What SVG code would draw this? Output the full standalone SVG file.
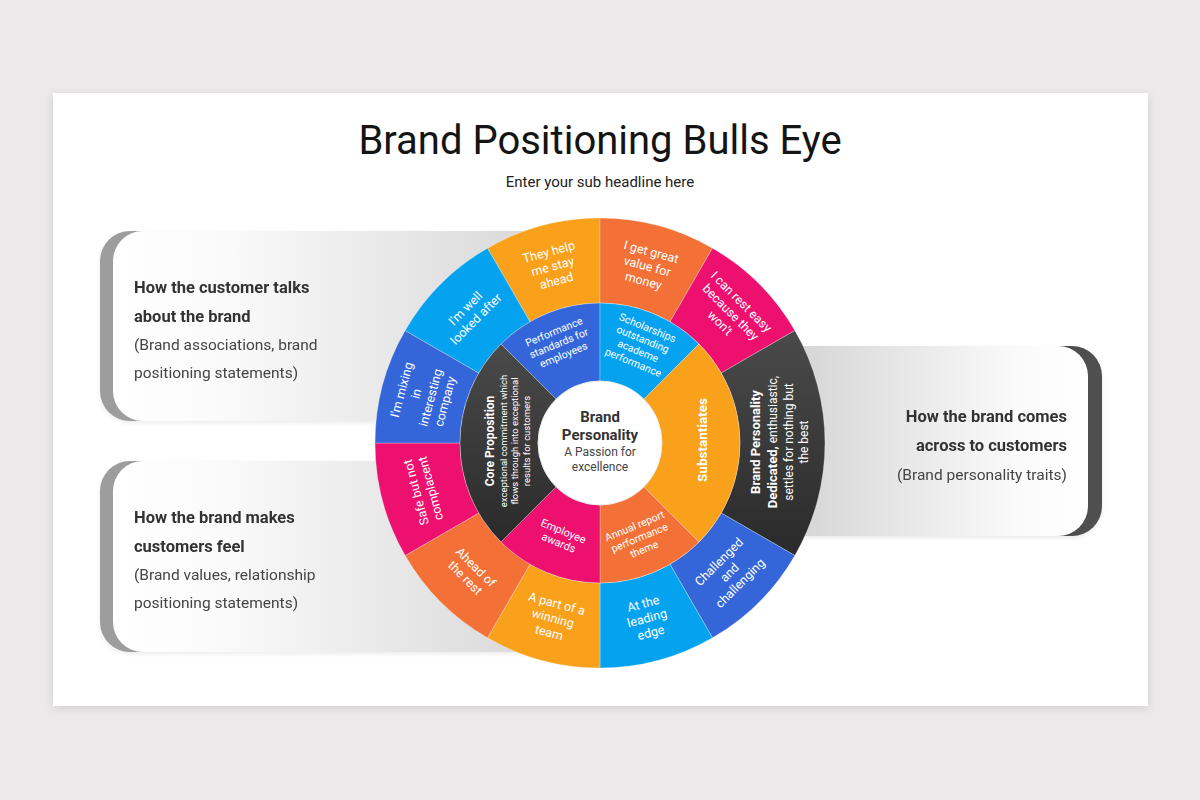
<svg xmlns="http://www.w3.org/2000/svg" width="1200" height="800" viewBox="0 0 1200 800">
<defs>
<style>
text{font-family:Roboto,"Liberation Sans",sans-serif}
.title{font-size:40px;fill:#141414;text-anchor:middle}
.sub{font-size:15px;fill:#222;text-anchor:middle}
.ph{font-size:16.5px;font-weight:700;fill:#333}
.pr{font-size:15.5px;fill:#444}
.o{font-size:12.5px;fill:#fff;text-anchor:middle}
.m{font-size:10.5px;fill:#fff;text-anchor:middle}
.b{font-weight:700}
.seg{stroke:#fff;stroke-opacity:.35;stroke-width:.8}
.c-or{fill:#F9A11B}
.c-rd{fill:#F37136}
.c-pk{fill:#EE106F}
.c-bl{fill:#3466DA}
.c-cy{fill:#05A3EF}
.c-dk{fill:url(#dark)}
</style>
<linearGradient id="dark" x1="0" y1="0" x2="0" y2="1">
<stop offset="0" stop-color="#4a4a4a"/><stop offset="1" stop-color="#2a2a2a"/>
</linearGradient>
<linearGradient id="lp" gradientUnits="userSpaceOnUse" x1="113" y1="0" x2="560" y2="0">
<stop offset="0" stop-color="#ffffff"/><stop offset="0.25" stop-color="#fafafa"/><stop offset="1" stop-color="#d6d6d6"/>
</linearGradient>
<linearGradient id="rp" gradientUnits="userSpaceOnUse" x1="1088" y1="0" x2="800" y2="0">
<stop offset="0" stop-color="#ffffff"/><stop offset="0.25" stop-color="#fafafa"/><stop offset="1" stop-color="#d6d6d6"/>
</linearGradient>
<filter id="cardsh" x="-5%" y="-5%" width="110%" height="112%">
<feDropShadow dx="0" dy="2" stdDeviation="4" flood-color="#000" flood-opacity="0.12"/>
</filter>
<filter id="psh" x="-5%" y="-10%" width="110%" height="125%">
<feDropShadow dx="0" dy="2" stdDeviation="2" flood-color="#000" flood-opacity="0.08"/>
</filter>
</defs>

<rect width="1200" height="800" fill="#EBE9EA"/>
<g id="card">
<rect x="53" y="93" width="1095" height="613" fill="#fff" filter="url(#cardsh)"/>
</g>

<g id="heading">
<text class="title" x="600" y="154">Brand Positioning Bulls Eye</text>
<text class="sub" x="600" y="187">Enter your sub headline here</text>
</g>

<g id="panel-talks" filter="url(#psh)">
<path d="M130 231H600V421H130A30 30 0 0 1 100 391V261A30 30 0 0 1 130 231Z" fill="#9d9d9d"/>
<path d="M143 231H600V421H143A30 30 0 0 1 113 391V261A30 30 0 0 1 143 231Z" fill="url(#lp)"/>
<text class="ph" x="134" y="293">How the customer talks</text>
<text class="ph" x="134" y="322">about the brand</text>
<text class="pr" x="134" y="350">(Brand associations, brand</text>
<text class="pr" x="134" y="378">positioning statements)</text>
</g>

<g id="panel-feel" filter="url(#psh)">
<path d="M130 461H600V652H130A30 30 0 0 1 100 622V491A30 30 0 0 1 130 461Z" fill="#9d9d9d"/>
<path d="M143 461H600V652H143A30 30 0 0 1 113 622V491A30 30 0 0 1 143 461Z" fill="url(#lp)"/>
<text class="ph" x="134" y="523">How the brand makes</text>
<text class="ph" x="134" y="552">customers feel</text>
<text class="pr" x="134" y="580">(Brand values, relationship</text>
<text class="pr" x="134" y="608">positioning statements)</text>
</g>

<g id="panel-comes" filter="url(#psh)">
<path d="M600 346H1072A30 30 0 0 1 1102 376V506A30 30 0 0 1 1072 536H600Z" fill="#4f4f4f"/>
<path d="M600 346H1058A30 30 0 0 1 1088 376V506A30 30 0 0 1 1058 536H600Z" fill="url(#rp)"/>
<text class="ph" x="1067" y="422" text-anchor="end">How the brand comes</text>
<text class="ph" x="1067" y="451" text-anchor="end">across to customers</text>
<text class="pr" x="1067" y="480" text-anchor="end">(Brand personality traits)</text>
</g>

<g id="connectors"/>

<g id="wheel">
<g id="seg-stay-ahead">
<path class="seg c-or" d="M487.5 248.15A225 225 0 0 1 600 218L600 303A140 140 0 0 0 530 321.76Z"/>
<g transform="translate(552.6 266.2) rotate(-15)"><text class="o"><tspan x="0" y="-10.6">They help</tspan><tspan x="0" y="4.4">me stay</tspan><tspan x="0" y="19.4">ahead</tspan></text></g>
</g>
<g id="seg-value">
<path class="seg c-rd" d="M600 218A225 225 0 0 1 712.5 248.15L670 321.76A140 140 0 0 0 600 303Z"/>
<g transform="translate(647.4 266.2) rotate(15)"><text class="o"><tspan x="0" y="-10.6">I get great</tspan><tspan x="0" y="4.4">value for</tspan><tspan x="0" y="19.4">money</tspan></text></g>
</g>
<g id="seg-rest-easy">
<path class="seg c-pk" d="M712.5 248.15A225 225 0 0 1 794.85 330.5L721.24 373A140 140 0 0 0 670 321.76Z"/>
<g transform="translate(730.8 312.2) rotate(45)"><text class="o"><tspan x="0" y="-10.6">I can rest easy</tspan><tspan x="0" y="4.4">because they</tspan><tspan x="0" y="19.4">won't</tspan></text></g>
</g>
<g id="seg-brand-personality">
<path class="seg c-dk" d="M794.85 330.5A225 225 0 0 1 794.85 555.5L721.24 513A140 140 0 0 0 721.24 373Z"/>
<g transform="translate(760 442) rotate(-90)"><text class="o"><tspan x="0" y="0" class="b" style="font-size:13px">Brand Personality</tspan><tspan x="0" y="16.5" style="font-size:12px"><tspan class="b" style="font-size:13px">Dedicated,</tspan> enthusiastic,</tspan><tspan x="0" y="32.5" style="font-size:12px">settles for nothing but</tspan><tspan x="0" y="48" style="font-size:12px">the best</tspan></text></g>
</g>
<g id="seg-challenged">
<path class="seg c-bl" d="M794.85 555.5A225 225 0 0 1 712.5 637.85L670 564.24A140 140 0 0 0 721.24 513Z"/>
<g transform="translate(729.4 572.4) rotate(-45)"><text class="o"><tspan x="0" y="-10.6">Challenged</tspan><tspan x="0" y="4.4">and</tspan><tspan x="0" y="19.4">challenging</tspan></text></g>
</g>
<g id="seg-leading-edge">
<path class="seg c-cy" d="M712.5 637.85A225 225 0 0 1 600 668L600 583A140 140 0 0 0 670 564.24Z"/>
<g transform="translate(647 618) rotate(-15)"><text class="o"><tspan x="0" y="-10.6">At the</tspan><tspan x="0" y="4.4">leading</tspan><tspan x="0" y="19.4">edge</tspan></text></g>
</g>
<g id="seg-winning-team">
<path class="seg c-or" d="M600 668A225 225 0 0 1 487.5 637.85L530 564.24A140 140 0 0 0 600 583Z"/>
<g transform="translate(553 618) rotate(15)"><text class="o"><tspan x="0" y="-10.6">A part of a</tspan><tspan x="0" y="4.4">winning</tspan><tspan x="0" y="19.4">team</tspan></text></g>
</g>
<g id="seg-ahead">
<path class="seg c-rd" d="M487.5 637.85A225 225 0 0 1 405.15 555.5L478.76 513A140 140 0 0 0 530 564.24Z"/>
<g transform="translate(470.6 572.4) rotate(45)"><text class="o"><tspan x="0" y="-3.1">Ahead of</tspan><tspan x="0" y="11.9">the rest</tspan></text></g>
</g>
<g id="seg-safe">
<path class="seg c-pk" d="M405.15 555.5A225 225 0 0 1 375 443L460 443A140 140 0 0 0 478.76 513Z"/>
<g transform="translate(423.2 490.4) rotate(-105)"><text class="o"><tspan x="0" y="-3.1">Safe but not</tspan><tspan x="0" y="11.9">complacent</tspan></text></g>
</g>
<g id="seg-mixing">
<path class="seg c-bl" d="M375 443A225 225 0 0 1 405.15 330.5L478.76 373A140 140 0 0 0 460 443Z"/>
<g transform="translate(423.2 395.6) rotate(-75)"><text class="o"><tspan x="0" y="-18.1">I'm mixing</tspan><tspan x="0" y="-3.1">in</tspan><tspan x="0" y="11.9">interesting</tspan><tspan x="0" y="26.9">company</tspan></text></g>
</g>
<g id="seg-looked-after">
<path class="seg c-cy" d="M405.15 330.5A225 225 0 0 1 487.5 248.15L530 321.76A140 140 0 0 0 478.76 373Z"/>
<g transform="translate(470.6 313.6) rotate(-45)"><text class="o"><tspan x="0" y="-3.1">I'm well</tspan><tspan x="0" y="11.9">looked after</tspan></text></g>
</g>

<g id="seg-performance">
<path class="seg c-bl" d="M600 443L501.01 344.01A140 140 0 0 1 600 303Z"/>
<g transform="translate(558.7 343.2) rotate(-22.5)"><text class="m"><tspan x="0" y="-8.8">Performance</tspan><tspan x="0" y="3.7">standards for</tspan><tspan x="0" y="16.2">employees</tspan></text></g>
</g>
<g id="seg-scholarships">
<path class="seg c-cy" d="M600 443L600 303A140 140 0 0 1 698.99 344.01Z"/>
<g transform="translate(640.5 345) rotate(22.5)"><text class="m"><tspan x="0" y="-15.05">Scholarships</tspan><tspan x="0" y="-2.55">outstanding</tspan><tspan x="0" y="9.95">academe</tspan><tspan x="0" y="22.45">performance</tspan></text></g>
</g>
<g id="seg-substantiates">
<path class="seg c-or" d="M600 443L698.99 344.01A140 140 0 0 1 698.99 541.99Z"/>
<g transform="translate(707 440) rotate(-90)"><text class="m b" style="font-size:13.5px"><tspan x="0" y="0">Substantiates</tspan></text></g>
</g>
<g id="seg-annual-report">
<path class="seg c-rd" d="M600 443L698.99 541.99A140 140 0 0 1 600 583Z"/>
<g transform="translate(639.4 537.5) rotate(-22.5)"><text class="m"><tspan x="0" y="-8.8">Annual report</tspan><tspan x="0" y="3.7">performance</tspan><tspan x="0" y="16.2">theme</tspan></text></g>
</g>
<g id="seg-employee-awards">
<path class="seg c-pk" d="M600 443L600 583A140 140 0 0 1 501.01 541.99Z"/>
<g transform="translate(561 537) rotate(22.5)"><text class="m" style="font-size:11px"><tspan x="0" y="-2.55">Employee</tspan><tspan x="0" y="9.95">awards</tspan></text></g>
</g>
<g id="seg-core-proposition">
<path class="seg c-dk" d="M600 443L501.01 541.99A140 140 0 0 1 501.01 344.01Z"/>
<g transform="translate(494 441) rotate(-90)"><text class="m" style="font-size:9.5px"><tspan x="0" y="0" class="b" style="font-size:12px">Core Proposition</tspan><tspan x="0" y="12.5">exceptional commitment which</tspan><tspan x="0" y="24">flows through into exceptional</tspan><tspan x="0" y="35.5">results for customers</tspan></text></g>
</g>

<g id="center">
<circle cx="600" cy="443" r="62" fill="#fff" stroke="#ececec" stroke-width="1"/>
<text x="600" y="422.3" text-anchor="middle" font-size="15" font-weight="700" fill="#333">Brand</text>
<text x="600" y="440" text-anchor="middle" font-size="15" font-weight="700" fill="#333">Personality</text>
<text x="600" y="456" text-anchor="middle" font-size="12" fill="#444">A Passion for</text>
<text x="600" y="470.5" text-anchor="middle" font-size="12" fill="#444">excellence</text>
</g>
</g>
</svg>
